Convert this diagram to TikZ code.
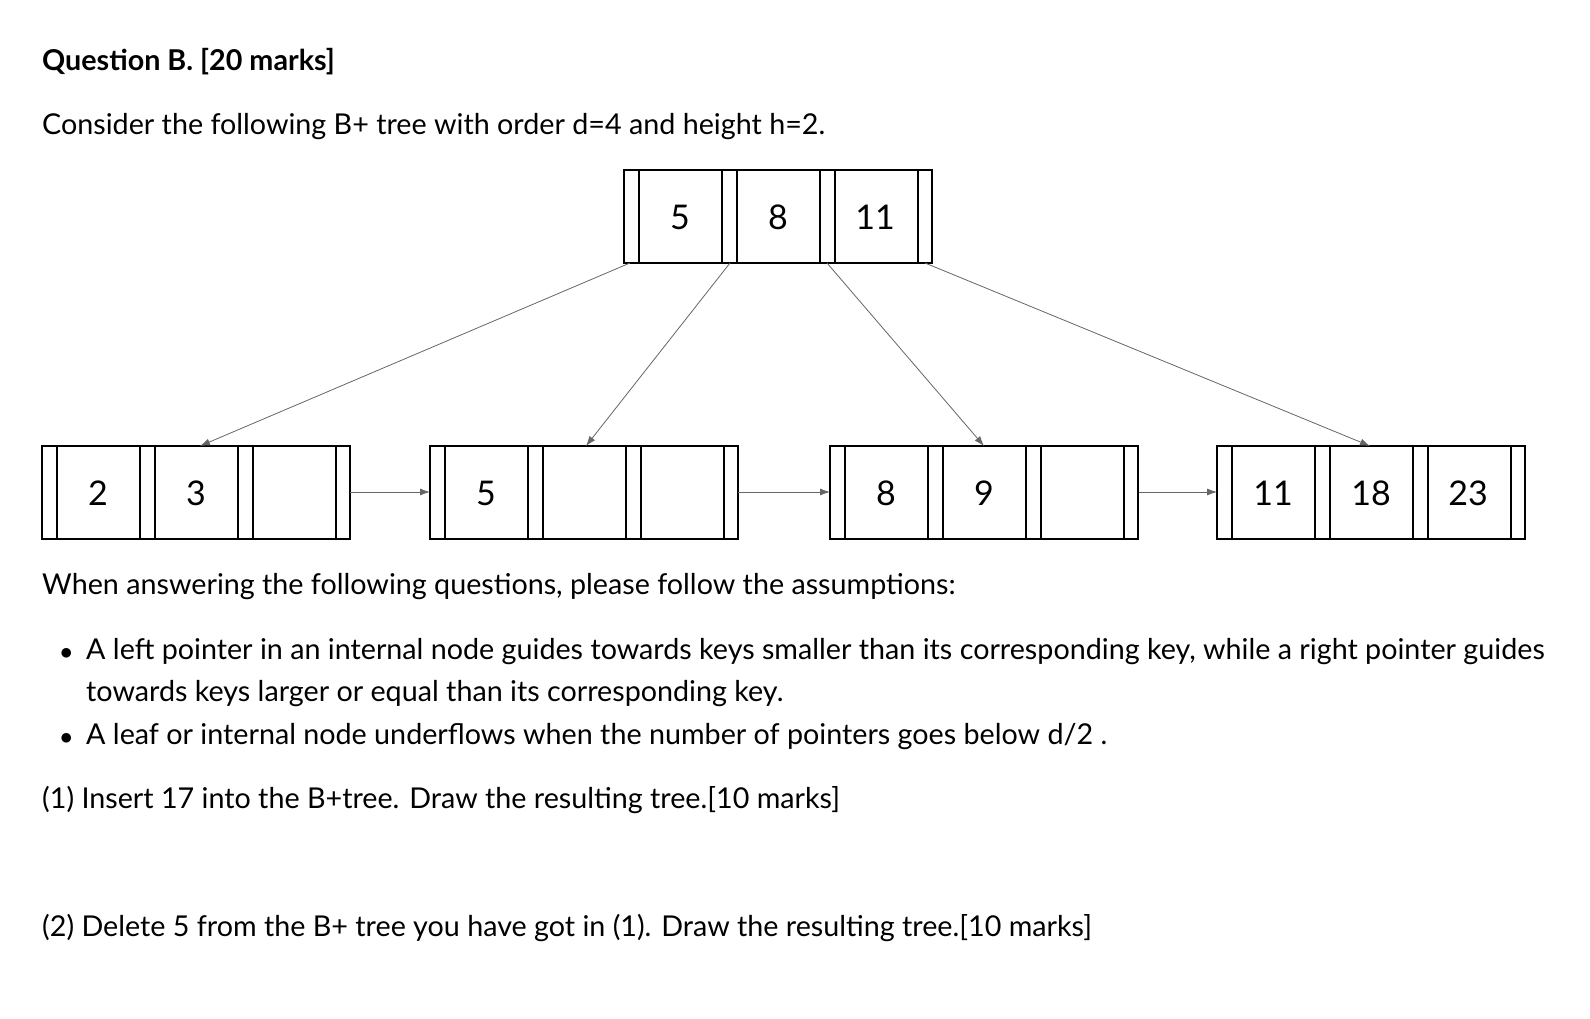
\documentclass[tikz,border=0pt]{standalone}
\usepackage{fontspec}
\setmainfont{Lato}
\newfontfamily\keyf{Lato}
\usetikzlibrary{arrows.meta}
\begin{document}
\begin{tikzpicture}[x=1pt,y=-1pt,
  txt/.style={anchor=base west,inner sep=0pt,font=\fontsize{28.7}{32}\selectfont},
  cell/.style={draw,line width=1.3pt},
  key/.style={font=\keyf\fontsize{34}{36}\selectfont},
  ptr/.style={draw=black!60,line width=0.8pt,-{Latex[length=10pt,width=7pt]}}]
\useasboundingbox[fill=white] (0,0) rectangle (1590,1018);
\newcommand{\bnode}[5]{%
  \foreach \i in {0,1,2}{
    \draw[cell] ({#2+\i*98},#3) rectangle ({#2+\i*98+15},#3+93);
    \draw[cell] ({#2+\i*98+15},#3) rectangle ({#2+\i*98+98},#3+93);
  }
  \draw[cell] ({#2+294},#3) rectangle ({#2+308},#3+93);
  \coordinate (#1) at (#2,#3);
  \node[key] at ({#2+56},#3+47) {#4};
  \node[key] at ({#2+154},#3+47) {#5};
}
\node[txt,font=\bfseries\fontsize{28.7}{32}\selectfont] (t1) at (42,70) {Question B. [20 marks]};
\node[txt] (t2) at (42,134) {Consider the following B+ tree with order d=4 and height h=2.};
\bnode{root}{624}{170}{5}{8}
\node[key] (r3) at (875,217) {11};
\bnode{l1}{42}{446}{2}{3}
\bnode{l2}{430}{446}{5}{}
\bnode{l3}{830}{446}{8}{9}
\bnode{l4}{1217}{446}{11}{18}
\node[key] (l43) at (1468,493) {23};
\coordinate (a1) at (630,263); \coordinate (b1) at (200,446);
\coordinate (a2) at (730,263); \coordinate (b2) at (586,446);
\coordinate (a3) at (827,263); \coordinate (b3) at (984,446);
\coordinate (a4) at (925,263); \coordinate (b4) at (1370,446);
\draw[ptr] (a1) -- (b1);
\draw[ptr] (a2) -- (b2);
\draw[ptr] (a3) -- (b3);
\draw[ptr] (a4) -- (b4);
\coordinate (c1) at (350,492); \coordinate (d1) at (430,492);
\coordinate (c2) at (738,492); \coordinate (d2) at (830,492);
\coordinate (c3) at (1139,492); \coordinate (d3) at (1217,492);
\draw[ptr] (c1) -- (d1);
\draw[ptr] (c2) -- (d2);
\draw[ptr] (c3) -- (d3);
\node[txt] (t3) at (42,594) {When answering the following questions, please follow the assumptions:};
\node[txt] (bu1) at (60,659) {$\bullet$};
\node[txt] (t4) at (86,659) {A left pointer in an internal node guides towards keys smaller than its corresponding key, while a right pointer guides};
\node[txt] (t5) at (86,701) {towards keys larger or equal than its corresponding key.};
\node[txt] (bu2) at (60,744) {$\bullet$};
\node[txt] (t6) at (86,744) {A leaf or internal node underflows when the number of pointers goes below d/2 .};
\node[txt] (t7) at (42,808) {(1) Insert 17 into the B+tree. Draw the resulting tree.[10 marks]};
\node[txt] (t8) at (42,936) {(2) Delete 5 from the B+ tree you have got in (1). Draw the resulting tree.[10 marks]};
\end{tikzpicture}
\end{document}
